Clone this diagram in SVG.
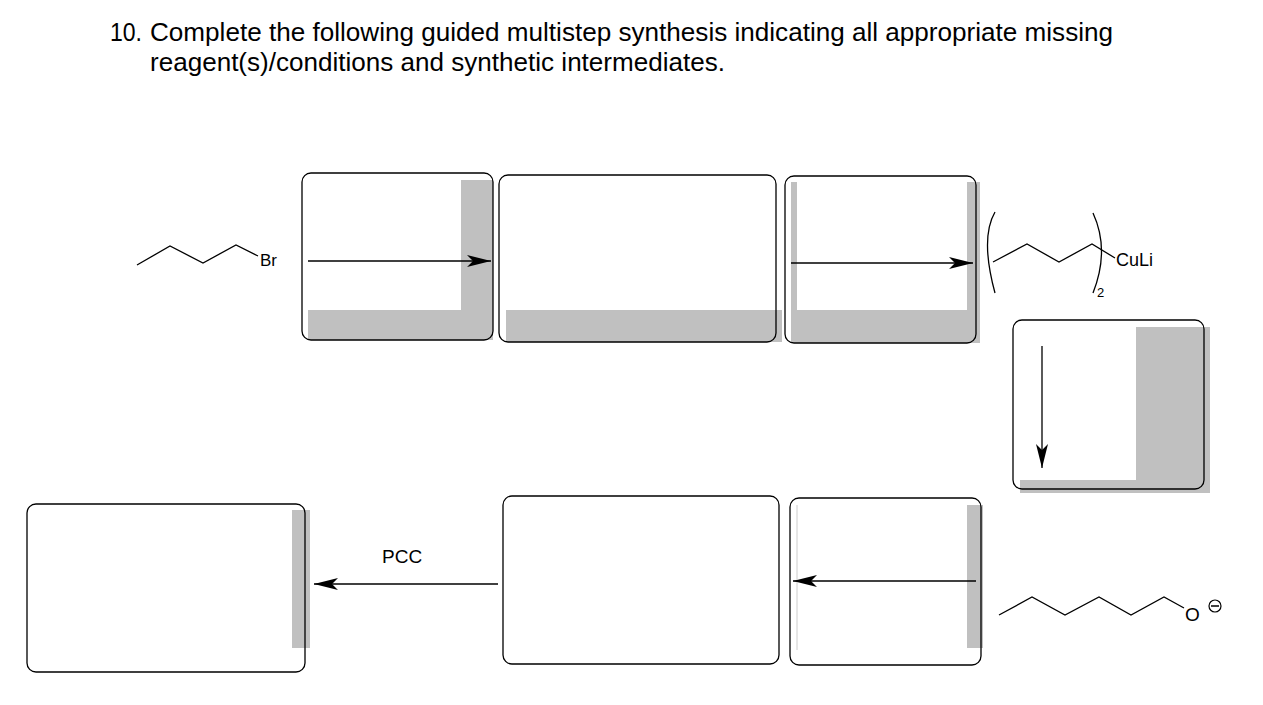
<svg xmlns="http://www.w3.org/2000/svg" width="1263" height="705" viewBox="0 0 1263 705">
<defs>
<style>
.t{font-family:"Liberation Sans",Arial,sans-serif;fill:#000}
.box{fill:none;stroke:#000;stroke-width:1.3}
.sh{fill:#c0c0c0}
.bond{fill:none;stroke:#000;stroke-width:1.3}
.arr{stroke:#000;stroke-width:1.3;marker-end:url(#ah)}
</style>
<marker id="ah" viewBox="0 0 24 12" refX="24" refY="6" markerWidth="24" markerHeight="12" markerUnits="userSpaceOnUse" orient="auto"><path d="M0,0 L24,6 L0,12 L6,6 Z" fill="#000"/></marker>
</defs>
<rect width="1263" height="705" fill="#fff"/>
<text class="t" x="110" y="41" font-size="25" textLength="32" lengthAdjust="spacingAndGlyphs">10.</text>
<text class="t" x="150" y="41" font-size="25" textLength="963" lengthAdjust="spacingAndGlyphs">Complete the following guided multistep synthesis indicating all appropriate missing</text>
<text class="t" x="150" y="71" font-size="25" textLength="575" lengthAdjust="spacingAndGlyphs">reagent(s)/conditions and synthetic intermediates.</text>

<g id="box1"><path class="sh" d="M461,180H493V340H308V310H461Z"/><rect class="box" x="302" y="173" width="191" height="167" rx="9"/></g>
<g id="box2"><rect class="sh" x="506" y="310" width="276" height="32"/><rect class="box" x="499" y="175" width="277" height="167" rx="9"/></g>
<g id="box3"><path class="sh" d="M791,182H797V310H967V182H980V343H791Z"/><rect class="box" x="785" y="176" width="191" height="167" rx="9"/></g>
<g id="box4"><path class="sh" d="M1136,327H1210V493H1020V480H1136Z"/><rect class="box" x="1013" y="320" width="191" height="169" rx="9"/></g>
<g id="box5"><rect class="sh" x="292" y="510" width="18" height="138"/><rect class="box" x="27" y="504" width="278" height="168" rx="9"/></g>
<g id="box6"><rect class="box" x="503" y="496" width="276" height="168" rx="9"/></g>
<g id="box7"><rect class="sh" x="967" y="505" width="16" height="143"/><line x1="797" y1="505" x2="797" y2="650" stroke="#ccc" stroke-width="1"/><rect class="box" x="790" y="498" width="191" height="167" rx="9"/></g>

<g id="bromide"><polyline class="bond" points="137,265 170,246 203,263 236,245 258,256"/><text class="t" x="260" y="266" font-size="17">Br</text></g>
<g id="cuprate"><polyline class="bond" points="993,262 1027,244 1059,262 1092,244 1115,258"/>
<path class="bond" d="M995,212 Q980,238 995,293"/><path class="bond" d="M1093,213 Q1110,250 1093,293"/>
<text class="t" x="1116" y="266" font-size="18">CuLi</text><text class="t" x="1097" y="297" font-size="13">2</text></g>
<g id="alkoxide"><polyline class="bond" points="999,615 1032,597 1065,615 1099,597 1131,615 1164,597 1184,608"/>
<text class="t" x="1185" y="621" font-size="19">O</text><circle cx="1215" cy="606" r="6" fill="none" stroke="#000" stroke-width="1.2"/><line x1="1211" y1="606" x2="1219" y2="606" stroke="#000" stroke-width="1.5"/></g>
<text class="t" x="382" y="563" font-size="19">PCC</text>

<g id="connectors">
<line class="arr" x1="308" y1="261" x2="491" y2="261"/>
<line class="arr" x1="791" y1="263" x2="973" y2="263"/>
<line class="arr" x1="1042" y1="346" x2="1042" y2="468"/>
<line class="arr" x1="976" y1="581" x2="793" y2="581"/>
<line class="arr" x1="498" y1="584" x2="314" y2="584"/>
</g>
</svg>
